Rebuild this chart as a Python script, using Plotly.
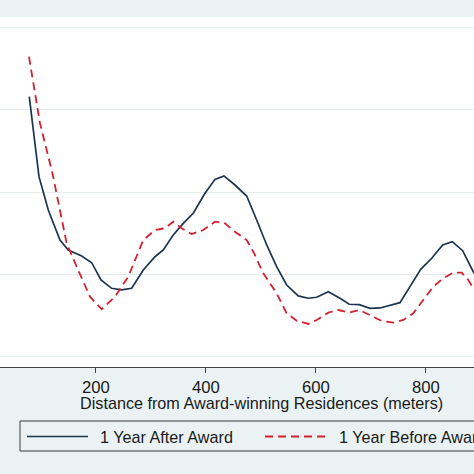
import plotly.graph_objects as go

# Distance (meters) and values for each series (y in arbitrary units)
after_x = [78.7, 96.4, 113.3, 134.5, 149.6, 174.0, 192.2, 209.1, 228.5, 246.7, 264.9, 286.0,
           307.3, 322.4, 340.5, 358.7, 376.9, 398.2, 416.4, 432.7, 452.7, 474.0, 492.2, 510.4,
           528.5, 546.7, 567.8, 586.0, 601.3, 622.4, 643.6, 660.5, 678.7, 698.2, 716.4, 734.5,
           752.7, 770.9, 790.4, 810.4, 830.4, 847.8, 866.7, 886.0, 900.0]
after_y = [3.159, 2.186, 1.781, 1.416, 1.295, 1.222, 1.140, 0.930, 0.829, 0.809, 0.829, 1.052,
           1.213, 1.295, 1.477, 1.619, 1.741, 1.984, 2.154, 2.195, 2.085, 1.951, 1.660, 1.356,
           1.092, 0.869, 0.736, 0.708, 0.720, 0.788, 0.708, 0.635, 0.630, 0.586, 0.590, 0.626,
           0.654, 0.849, 1.060, 1.194, 1.356, 1.396, 1.286, 1.031, 0.900]

before_x = [78.2, 98.2, 120.9, 146.7, 164.9, 189.1, 210.4, 234.5, 258.7, 286.0, 307.3, 325.5,
            340.5, 355.8, 374.0, 395.1, 416.4, 434.5, 452.7, 474.0, 486.0, 504.2, 528.5, 546.7,
            564.9, 586.0, 601.3, 622.4, 640.5, 660.5, 678.7, 698.2, 719.5, 740.5, 758.7, 776.9,
            795.1, 813.3, 831.5, 849.6, 864.9, 876.9, 886.0, 900.0]
before_y = [3.645, 2.835, 2.227, 1.376, 1.092, 0.727, 0.574, 0.727, 0.970, 1.416, 1.538, 1.559,
            1.639, 1.559, 1.489, 1.538, 1.639, 1.619, 1.517, 1.416, 1.274, 1.012, 0.768, 0.525,
            0.435, 0.395, 0.444, 0.533, 0.565, 0.533, 0.565, 0.505, 0.432, 0.411, 0.444, 0.525,
            0.687, 0.849, 0.951, 1.019, 1.019, 0.930, 0.829, 0.760]

x_ticks = [200, 400, 600, 800]
y_grid = [0, 1, 2, 3, 4]
series_names = ["1 Year After Award", "1 Year Before Award"]
x_title = "Distance from Award-winning Residences (meters)"

W, H = 474, 474
T, B = 17, 107
PH = H - T - B
BG = "#EAF2F3"
NAVY = "#1B3550"
RED = "#D3202F"
FONT = "Liberation Sans, Arial, sans-serif"
FS = 16.2

def px(xp):
    return xp / W

def py(yp):
    return (H - B - yp) / PH

fig = go.Figure()
fig.add_trace(go.Scatter(x=after_x, y=after_y, mode="lines", name=series_names[0],
                         line=dict(color=NAVY, width=1.7), showlegend=False))
fig.add_trace(go.Scatter(x=before_x, y=before_y, mode="lines", name=series_names[1],
                         line=dict(color=RED, width=1.8, dash="8px,5px"), showlegend=False))

fig.update_layout(
    width=W, height=H,
    margin=dict(l=0, r=0, t=T, b=B, pad=0),
    paper_bgcolor=BG, plot_bgcolor="white",
    font=dict(family=FONT, size=FS, color="#1a1a1a"),
    xaxis=dict(range=[25.5, 887.3], tickvals=x_ticks, ticks="outside", ticklen=5,
               tickcolor="#444", showline=True, linecolor="#444", linewidth=1,
               showgrid=False, zeroline=False, tickfont=dict(size=FS + 0.5, color="#1a1a1a")),
    yaxis=dict(range=[-0.128, 4.128], tickvals=y_grid, showticklabels=False,
               showgrid=True, gridcolor="#E6EDEF", gridwidth=1.3, zeroline=False,
               showline=False, ticks=""),
)

# axis title (centred on the full, partly hidden, plot region)
fig.add_annotation(text=x_title, xref="paper", yref="paper", x=px(261), y=py(403),
                   xanchor="center", yanchor="middle", showarrow=False,
                   font=dict(size=FS, color="#1a1a1a"))

# legend box
fig.add_shape(type="rect", xref="paper", yref="paper", x0=px(20), x1=px(490),
              y0=py(451), y1=py(421), line=dict(color="#3a3a3a", width=1), fillcolor=BG,
              layer="below")
fig.add_shape(type="line", xref="paper", yref="paper", x0=px(27), x1=px(88),
              y0=py(436.5), y1=py(436.5), line=dict(color=NAVY, width=1.7))
fig.add_shape(type="line", xref="paper", yref="paper", x0=px(265), x1=px(326),
              y0=py(436.5), y1=py(436.5), line=dict(color=RED, width=1.8, dash="8px,5px"))
fig.add_annotation(text=series_names[0], xref="paper", yref="paper", x=px(98), y=py(437),
                   xanchor="left", yanchor="middle", showarrow=False,
                   font=dict(size=FS, color="#1a1a1a"))
fig.add_annotation(text=series_names[1], xref="paper", yref="paper", x=px(337), y=py(437),
                   xanchor="left", yanchor="middle", showarrow=False,
                   font=dict(size=FS, color="#1a1a1a"))

fig.write_html("out.html", config={"displayModeBar": False},
               post_script="document.body.style.margin='0';document.body.style.overflow='hidden';")
